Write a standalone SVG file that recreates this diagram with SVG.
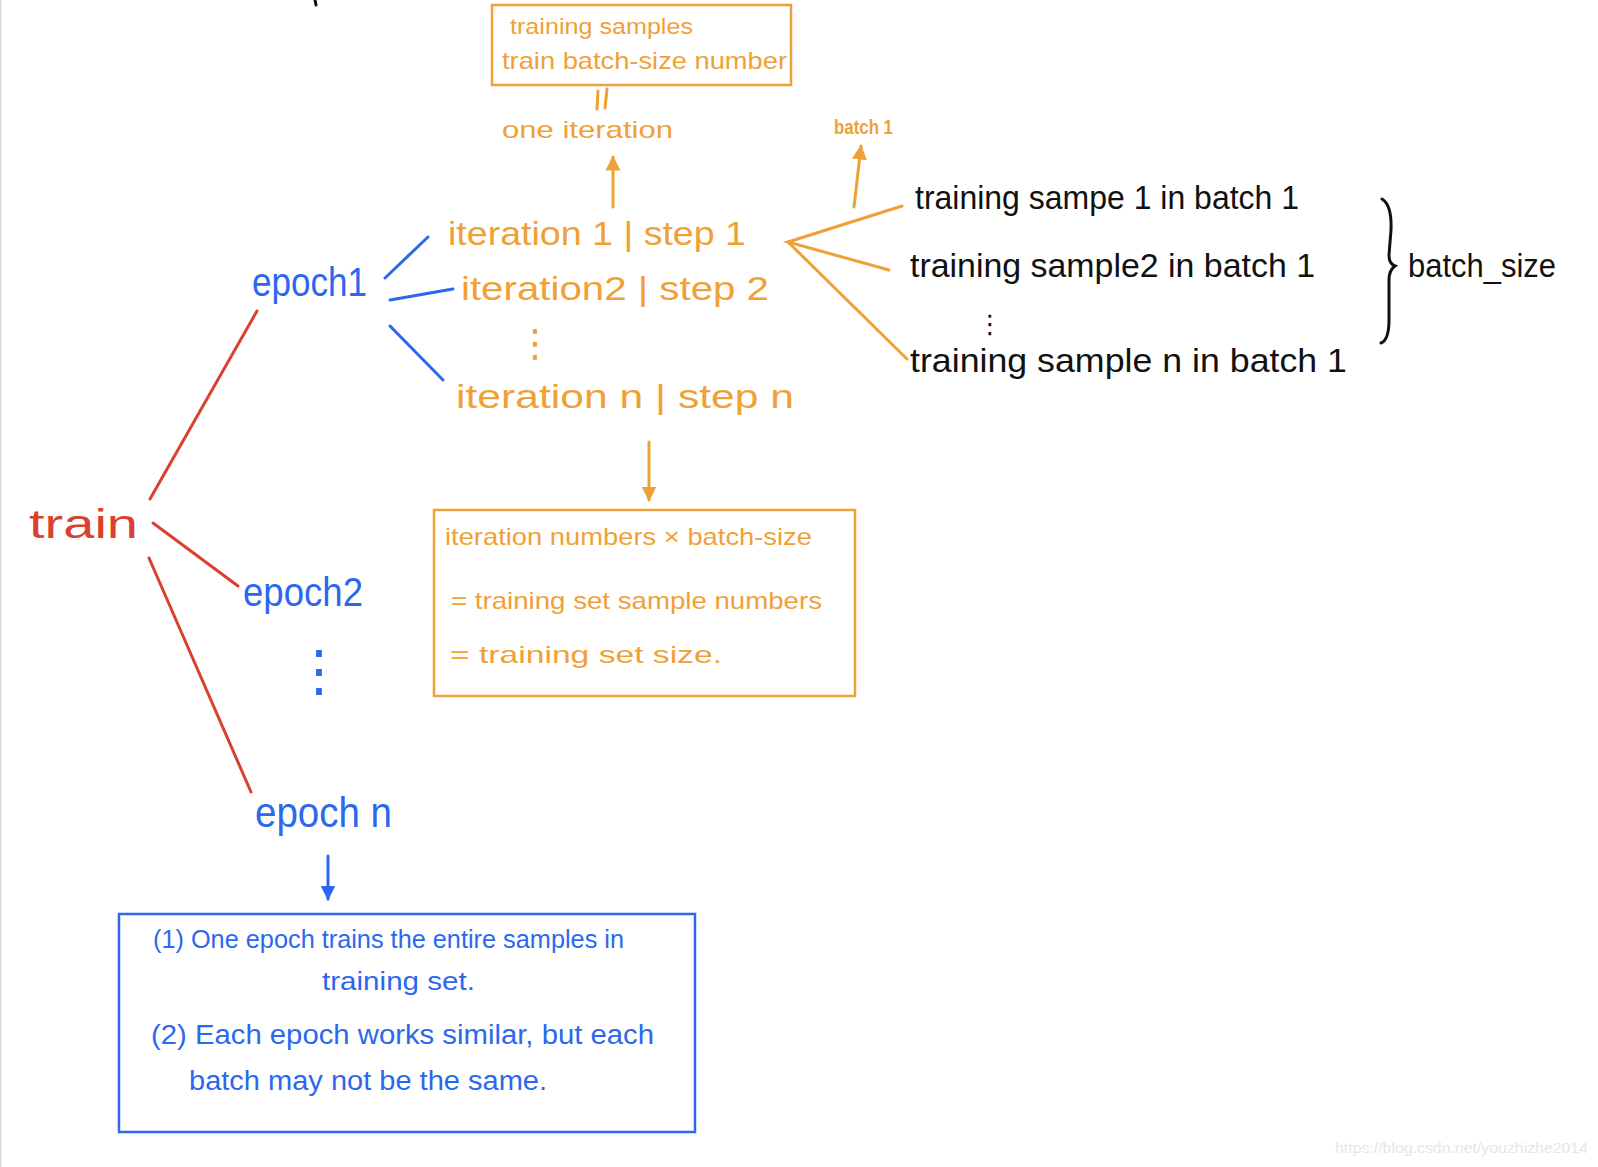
<svg xmlns="http://www.w3.org/2000/svg" width="1598" height="1167" viewBox="0 0 1598 1167">
<defs>
<style>
.t{font-family:"Liberation Sans","DejaVu Sans",sans-serif}
.o{fill:#EFA137}.b{fill:#2C68EE}.r{fill:#D9402E}.k{fill:#111}
.lo{stroke:#EFA137;stroke-width:3;fill:none;stroke-linecap:round}
.lb{stroke:#2C68EE;stroke-width:3;fill:none;stroke-linecap:round}
.lr{stroke:#D9402E;stroke-width:3;fill:none;stroke-linecap:round}
.bo{fill:none;stroke:#EFA137;stroke-width:2.5}
.bb{fill:none;stroke:#2C68EE;stroke-width:2.5}
</style>
<marker id="ao" viewBox="0 0 10 10" refX="9" refY="5" markerWidth="5" markerHeight="5" orient="auto" markerUnits="strokeWidth"><path d="M0,0 L10,5 L0,10 z" fill="#EFA137"/></marker>
<marker id="ab" viewBox="0 0 10 10" refX="9" refY="5" markerWidth="5" markerHeight="5" orient="auto" markerUnits="strokeWidth"><path d="M0,0 L10,5 L0,10 z" fill="#2C68EE"/></marker>
</defs>
<rect x="0" y="0" width="1598" height="1167" fill="#fff"/>
<line x1="0.5" y1="0" x2="0.5" y2="1167" stroke="#d5dae3" stroke-width="2"/>
<line x1="315" y1="0" x2="316" y2="5" stroke="#111" stroke-width="3" stroke-linecap="round"/>

<g id="connectors">
<line class="lr" x1="257" y1="311" x2="150" y2="499"/>
<line class="lr" x1="153" y1="523" x2="238" y2="586"/>
<line class="lr" x1="149" y1="558" x2="251" y2="792"/>
<line class="lb" x1="385" y1="278" x2="428" y2="237"/>
<line class="lb" x1="390" y1="300" x2="453" y2="289"/>
<line class="lb" x1="390" y1="326" x2="443" y2="380"/>
<line class="lo" x1="613" y1="207" x2="613" y2="157" marker-end="url(#ao)"/>
<line class="lo" x1="854" y1="207" x2="861" y2="146" marker-end="url(#ao)"/>
<line class="lo" x1="649" y1="442" x2="649" y2="500" marker-end="url(#ao)"/>
<line class="lb" x1="328" y1="856" x2="328" y2="899" marker-end="url(#ab)"/>
<polyline class="lo" points="902,206 788,242 889,270"/>
<line class="lo" x1="788" y1="242" x2="907" y2="359"/>
<line class="lo" x1="598" y1="91" x2="597" y2="109"/>
<line class="lo" x1="607" y1="89" x2="605" y2="108"/>
</g>

<g id="node-top-box">
<rect class="bo" x="492" y="5" width="299" height="80"/>
<text class="t o" x="510" y="34" font-size="22" textLength="183" lengthAdjust="spacingAndGlyphs">training samples</text>
<text class="t o" x="502" y="69" font-size="24" textLength="285" lengthAdjust="spacingAndGlyphs">train batch-size number</text>
</g>
<g id="node-one-iteration">
<text class="t o" x="502" y="138" font-size="24" textLength="171" lengthAdjust="spacingAndGlyphs">one iteration</text>
</g>
<g id="node-batch1">
<text class="t o" x="834" y="134" font-size="20" font-weight="bold" textLength="59" lengthAdjust="spacingAndGlyphs">batch 1</text>
</g>
<g id="node-iterations">
<text class="t o" x="448" y="245" font-size="34" textLength="298" lengthAdjust="spacingAndGlyphs">iteration 1 | step 1</text>
<text class="t o" x="461" y="300" font-size="34" textLength="308" lengthAdjust="spacingAndGlyphs">iteration2 | step 2</text>
<text class="t o" x="516" y="356" font-size="38">⋮</text>
<text class="t o" x="456" y="408" font-size="34" textLength="338" lengthAdjust="spacingAndGlyphs">iteration n | step n</text>
</g>
<g id="node-iter-box">
<rect class="bo" x="434" y="510" width="421" height="186"/>
<text class="t o" x="445" y="545" font-size="24" textLength="367" lengthAdjust="spacingAndGlyphs">iteration numbers × batch-size</text>
<text class="t o" x="451" y="609" font-size="24" textLength="371" lengthAdjust="spacingAndGlyphs">= training set sample numbers</text>
<text class="t o" x="450" y="663" font-size="24" textLength="272" lengthAdjust="spacingAndGlyphs">= training set size.</text>
</g>
<g id="node-train">
<text class="t r" x="29" y="538" font-size="40" textLength="109" lengthAdjust="spacingAndGlyphs">train</text>
</g>
<g id="node-epoch1">
<text class="t b" x="252" y="296" font-size="40" textLength="115" lengthAdjust="spacingAndGlyphs">epoch1</text>
</g>
<g id="node-epoch2">
<text class="t b" x="243" y="606" font-size="40" textLength="120" lengthAdjust="spacingAndGlyphs">epoch2</text>
<text class="t b" x="291" y="690" font-size="56">⋮</text>
</g>
<g id="node-epochn">
<text class="t b" x="255" y="827" font-size="42" textLength="137" lengthAdjust="spacingAndGlyphs">epoch n</text>
</g>
<g id="node-epoch-box">
<rect class="bb" x="119" y="914" width="576" height="218"/>
<text class="t b" x="153" y="948" font-size="25" textLength="471" lengthAdjust="spacingAndGlyphs">(1) One epoch trains the entire samples in</text>
<text class="t b" x="322" y="990" font-size="25" textLength="153" lengthAdjust="spacingAndGlyphs">training set.</text>
<text class="t b" x="151" y="1044" font-size="27" textLength="503" lengthAdjust="spacingAndGlyphs">(2) Each epoch works similar, but each</text>
<text class="t b" x="189" y="1090" font-size="27" textLength="358" lengthAdjust="spacingAndGlyphs">batch may not be the same.</text>
</g>
<g id="node-samples">
<text class="t k" x="915" y="209" font-size="34" textLength="384" lengthAdjust="spacingAndGlyphs">training sampe 1 in batch 1</text>
<text class="t k" x="910" y="277" font-size="34" textLength="405" lengthAdjust="spacingAndGlyphs">training sample2 in batch 1</text>
<text class="t k" x="977" y="333" font-size="26">⋮</text>
<text class="t k" x="910" y="372" font-size="34" textLength="437" lengthAdjust="spacingAndGlyphs">training sample n in batch 1</text>
</g>
<g id="node-batch-size">
<path d="M1382,199 Q1392,205 1391,230 L1389,255 Q1389,264 1395,266 Q1389,270 1389,280 L1389,320 Q1389,340 1381,343" fill="none" stroke="#111" stroke-width="3" stroke-linecap="round"/>
<text class="t k" x="1408" y="277" font-size="34" textLength="148" lengthAdjust="spacingAndGlyphs">batch_size</text>
</g>
<text class="t" x="1335" y="1153" font-size="14" fill="#e6e6e6" textLength="253" lengthAdjust="spacingAndGlyphs">https://blog.csdn.net/youzhizhe2014</text>
</svg>
